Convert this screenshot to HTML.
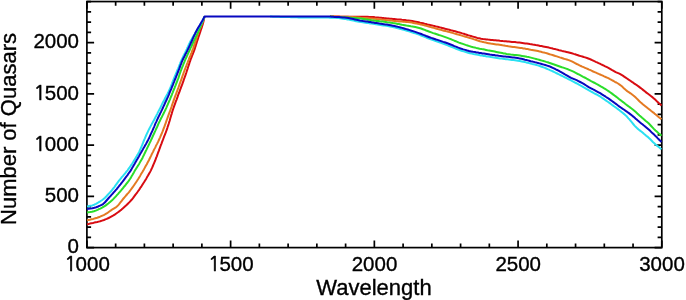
<!DOCTYPE html>
<html><head><meta charset="utf-8"><style>
html,body{margin:0;padding:0;background:#fff;}
svg{display:block;}
text{font-family:"Liberation Sans",Arial,Helvetica,sans-serif;fill:#000;stroke:#000;stroke-width:0.35px;}
.o{font-family:NanumGothic,"Liberation Sans",sans-serif;stroke-width:0.6px;letter-spacing:-1.05px;}
</style></head><body>
<svg width="686" height="300" viewBox="0 0 686 300">
<g fill="none" stroke="#000" stroke-width="1.7">
<path d="M86.90,247.6 v-7.2 M86.90,1.55 v7.2 M115.65,247.6 v-4.2 M115.65,1.55 v4.2 M144.39,247.6 v-4.2 M144.39,1.55 v4.2 M173.13,247.6 v-4.2 M173.13,1.55 v4.2 M201.88,247.6 v-4.2 M201.88,1.55 v4.2 M230.62,247.6 v-7.2 M230.62,1.55 v7.2 M259.37,247.6 v-4.2 M259.37,1.55 v4.2 M288.12,247.6 v-4.2 M288.12,1.55 v4.2 M316.86,247.6 v-4.2 M316.86,1.55 v4.2 M345.61,247.6 v-4.2 M345.61,1.55 v4.2 M374.35,247.6 v-7.2 M374.35,1.55 v7.2 M403.10,247.6 v-4.2 M403.10,1.55 v4.2 M431.84,247.6 v-4.2 M431.84,1.55 v4.2 M460.59,247.6 v-4.2 M460.59,1.55 v4.2 M489.33,247.6 v-4.2 M489.33,1.55 v4.2 M518.08,247.6 v-7.2 M518.08,1.55 v7.2 M546.82,247.6 v-4.2 M546.82,1.55 v4.2 M575.56,247.6 v-4.2 M575.56,1.55 v4.2 M604.31,247.6 v-4.2 M604.31,1.55 v4.2 M633.05,247.6 v-4.2 M633.05,1.55 v4.2 M661.80,247.6 v-7.2 M661.80,1.55 v7.2 M86.9,247.60 h7.2 M661.8,247.60 h-7.2 M86.9,237.35 h4.2 M661.8,237.35 h-4.2 M86.9,227.10 h4.2 M661.8,227.10 h-4.2 M86.9,216.84 h4.2 M661.8,216.84 h-4.2 M86.9,206.59 h4.2 M661.8,206.59 h-4.2 M86.9,196.34 h7.2 M661.8,196.34 h-7.2 M86.9,186.09 h4.2 M661.8,186.09 h-4.2 M86.9,175.84 h4.2 M661.8,175.84 h-4.2 M86.9,165.58 h4.2 M661.8,165.58 h-4.2 M86.9,155.33 h4.2 M661.8,155.33 h-4.2 M86.9,145.08 h7.2 M661.8,145.08 h-7.2 M86.9,134.83 h4.2 M661.8,134.83 h-4.2 M86.9,124.58 h4.2 M661.8,124.58 h-4.2 M86.9,114.32 h4.2 M661.8,114.32 h-4.2 M86.9,104.07 h4.2 M661.8,104.07 h-4.2 M86.9,93.82 h7.2 M661.8,93.82 h-7.2 M86.9,83.57 h4.2 M661.8,83.57 h-4.2 M86.9,73.31 h4.2 M661.8,73.31 h-4.2 M86.9,63.06 h4.2 M661.8,63.06 h-4.2 M86.9,52.81 h4.2 M661.8,52.81 h-4.2 M86.9,42.56 h7.2 M661.8,42.56 h-7.2 M86.9,32.31 h4.2 M661.8,32.31 h-4.2 M86.9,22.05 h4.2 M661.8,22.05 h-4.2 M86.9,11.80 h4.2 M661.8,11.80 h-4.2 M86.9,1.55 h4.2 M661.8,1.55 h-4.2"/>
<rect x="86.9" y="1.55" width="574.9" height="246.04999999999998"/>
</g>
<g fill="none" stroke-width="2.0" stroke-linejoin="round" stroke-linecap="butt">
<path d="M87.0,224.3 L88.5,224.0 L89.9,223.6 L91.4,223.3 L92.9,223.0 L94.3,222.6 L95.8,222.3 L97.3,222.0 L98.7,221.6 L100.2,221.2 L102.1,220.6 L104.0,220.0 L105.4,219.4 L106.7,218.9 L108.6,218.0 L110.3,217.1 L112.1,216.1 L113.4,215.4 L114.7,214.6 L116.3,213.5 L118.0,212.3 L119.2,211.4 L120.3,210.5 L121.5,209.6 L122.7,208.6 L123.8,207.6 L124.9,206.6 L126.0,205.6 L127.1,204.5 L128.1,203.5 L129.2,202.4 L130.2,201.3 L131.6,199.8 L132.8,198.3 L133.7,197.1 L134.6,195.9 L135.5,194.7 L136.4,193.5 L137.3,192.3 L138.2,191.0 L139.1,189.8 L139.9,188.6 L140.7,187.3 L141.6,186.1 L142.4,184.8 L143.2,183.5 L144.0,182.3 L144.8,181.0 L145.6,179.7 L146.4,178.4 L147.1,177.1 L147.9,175.8 L148.6,174.5 L149.3,173.2 L150.1,171.9 L150.8,170.6 L151.6,168.8 L152.3,167.4 L152.9,166.0 L153.4,164.7 L154.0,163.3 L154.6,161.9 L155.2,160.5 L155.7,159.1 L156.2,157.7 L156.8,156.3 L157.3,154.9 L157.8,153.5 L158.3,152.1 L158.9,150.6 L159.4,149.2 L159.9,147.8 L160.4,146.4 L160.9,145.0 L161.5,143.6 L162.0,142.2 L162.5,140.8 L163.1,139.4 L163.6,138.0 L164.1,136.6 L164.7,135.2 L165.2,133.8 L165.8,132.4 L166.3,131.0 L166.8,129.6 L167.3,128.1 L167.7,126.7 L168.2,125.3 L168.7,123.8 L169.1,122.4 L169.6,121.0 L170.0,119.5 L170.4,118.1 L170.8,116.7 L171.2,115.2 L171.7,113.8 L172.1,112.3 L172.5,110.9 L173.0,109.5 L173.5,108.0 L174.0,106.6 L174.5,105.2 L175.0,103.8 L175.5,102.4 L176.0,101.0 L176.6,99.6 L177.1,98.2 L177.6,96.8 L178.1,95.3 L178.6,93.9 L179.2,92.5 L179.7,91.1 L180.2,89.7 L180.7,88.3 L181.2,86.9 L181.8,85.5 L182.3,84.1 L182.8,82.7 L183.3,81.3 L183.8,79.8 L184.3,78.4 L184.8,77.0 L185.3,75.6 L185.8,74.2 L186.3,72.7 L186.7,71.3 L187.2,69.9 L187.7,68.5 L188.1,67.0 L188.6,65.6 L189.1,64.2 L189.5,62.7 L190.0,61.3 L190.5,59.9 L191.0,58.5 L191.6,57.1 L192.1,55.7 L192.7,54.3 L193.2,52.9 L193.8,51.5 L194.3,50.1 L194.8,48.7 L195.2,47.2 L195.7,45.8 L196.1,44.4 L196.6,42.9 L197.0,41.5 L197.5,40.1 L198.0,38.7 L198.4,37.2 L198.9,35.8 L199.4,34.4 L199.9,33.0 L200.4,31.5 L200.8,30.1 L201.3,28.7 L201.8,27.3 L202.2,25.8 L202.7,24.4 L203.1,23.0 L203.6,21.0 L203.9,19.5 L204.2,18.1 L204.5,16.6 M330.0,16.6 L331.5,16.6 L333.0,16.6 L334.5,16.6 L336.0,16.6 L337.5,16.6 L339.0,16.6 L340.5,16.7 L342.0,16.7 L343.5,16.7 L345.0,16.7 L346.5,16.7 L348.0,16.7 L349.5,16.7 L351.0,16.7 L352.5,16.7 L354.0,16.7 L355.5,16.7 L357.0,16.7 L358.5,16.7 L360.0,16.8 L361.5,16.8 L363.0,16.8 L364.5,16.8 L366.0,16.8 L367.5,16.8 L369.5,16.9 L371.5,17.0 L373.5,17.1 L375.0,17.3 L376.5,17.4 L378.0,17.5 L379.5,17.7 L381.0,17.8 L382.5,17.9 L384.0,18.1 L385.5,18.2 L387.0,18.4 L388.4,18.5 L389.9,18.7 L391.4,18.8 L392.9,19.0 L394.4,19.1 L395.9,19.2 L397.4,19.4 L398.9,19.5 L400.4,19.6 L401.9,19.8 L403.4,19.9 L404.9,20.0 L406.4,20.2 L408.4,20.4 L410.3,20.7 L412.3,21.0 L414.3,21.4 L415.7,21.7 L417.2,22.0 L418.7,22.3 L420.1,22.7 L421.6,23.0 L423.1,23.3 L424.5,23.7 L426.0,24.0 L427.4,24.4 L428.9,24.7 L430.4,25.1 L431.8,25.4 L433.3,25.8 L434.7,26.1 L436.2,26.5 L437.7,26.8 L439.1,27.2 L440.6,27.6 L442.0,27.9 L443.5,28.3 L444.9,28.7 L446.4,29.1 L447.8,29.4 L449.3,29.8 L450.7,30.2 L452.2,30.6 L453.7,30.9 L455.1,31.3 L456.6,31.7 L458.0,32.1 L459.4,32.5 L460.9,32.9 L462.3,33.4 L463.8,33.8 L465.2,34.3 L466.6,34.7 L468.0,35.2 L469.5,35.6 L470.9,36.0 L472.4,36.5 L473.8,36.9 L475.2,37.3 L477.2,37.9 L479.1,38.3 L481.1,38.7 L483.0,39.0 L485.0,39.2 L486.5,39.4 L488.0,39.6 L489.5,39.7 L491.0,39.9 L492.5,40.0 L494.0,40.2 L495.5,40.3 L497.0,40.5 L498.4,40.6 L499.9,40.8 L501.4,40.9 L502.9,41.1 L504.4,41.2 L505.9,41.3 L507.4,41.5 L508.9,41.6 L510.4,41.7 L511.9,41.9 L513.4,42.0 L514.9,42.1 L516.4,42.3 L517.9,42.4 L519.4,42.6 L520.9,42.8 L522.3,43.0 L523.8,43.2 L525.3,43.4 L526.8,43.6 L528.3,43.8 L529.8,44.1 L531.2,44.3 L532.7,44.6 L534.2,44.8 L535.7,45.1 L537.2,45.3 L538.6,45.6 L540.1,45.9 L541.6,46.1 L543.1,46.4 L544.5,46.7 L546.0,47.0 L547.5,47.3 L548.9,47.6 L550.4,48.0 L551.9,48.3 L553.3,48.7 L554.8,49.0 L556.2,49.4 L557.7,49.8 L559.1,50.2 L560.6,50.5 L562.1,50.9 L563.5,51.2 L565.0,51.6 L566.4,51.9 L567.9,52.2 L569.8,52.7 L571.8,53.3 L573.7,53.9 L575.1,54.3 L576.5,54.8 L578.0,55.2 L579.4,55.7 L580.8,56.1 L582.3,56.5 L583.7,57.0 L585.1,57.4 L587.0,58.0 L588.9,58.7 L590.8,59.5 L592.6,60.3 L594.4,61.2 L595.7,61.8 L597.1,62.4 L598.5,63.1 L599.8,63.7 L601.2,64.4 L602.5,65.0 L603.9,65.6 L605.2,66.3 L607.0,67.2 L608.8,68.1 L610.5,69.1 L612.2,70.1 L614.0,71.1 L615.7,72.1 L617.5,72.9 L619.4,73.7 L621.1,74.7 L622.8,75.7 L624.5,76.8 L625.7,77.6 L627.0,78.5 L628.2,79.3 L629.4,80.2 L630.7,81.0 L631.9,81.9 L633.2,82.7 L634.4,83.6 L635.6,84.4 L636.9,85.2 L638.5,86.4 L640.1,87.6 L641.7,88.8 L643.3,90.1 L644.8,91.3 L646.4,92.6 L648.0,93.8 L649.6,95.0 L651.2,96.2 L652.7,97.4 L654.2,98.7 L655.7,100.1 L657.1,101.5 L658.2,102.5 L659.3,103.6 L660.4,104.6 L661.5,105.6" stroke="#d80c12"/>
<path d="M87.0,220.3 L88.5,220.0 L89.9,219.7 L91.4,219.3 L93.3,218.9 L95.3,218.3 L97.2,217.7 L98.6,217.2 L100.0,216.7 L101.8,215.9 L103.7,215.1 L105.4,214.2 L107.1,213.2 L108.7,212.0 L110.3,210.8 L112.0,209.7 L113.7,208.7 L115.4,207.7 L116.9,206.5 L118.3,205.1 L119.5,203.6 L120.7,202.0 L121.7,200.8 L122.6,199.6 L123.5,198.5 L124.5,197.3 L125.5,196.2 L126.5,195.0 L127.4,193.9 L128.4,192.8 L129.4,191.6 L130.6,190.0 L131.8,188.4 L132.7,187.2 L133.5,186.0 L134.4,184.7 L135.2,183.5 L136.1,182.2 L136.9,181.0 L137.7,179.7 L138.5,178.5 L139.3,177.2 L140.1,175.9 L140.8,174.6 L141.6,173.3 L142.4,172.0 L143.1,170.7 L143.9,169.4 L144.6,168.1 L145.3,166.8 L146.0,165.5 L146.8,164.2 L147.5,162.8 L148.2,161.5 L148.9,160.2 L149.6,158.8 L150.2,157.5 L150.9,156.1 L151.5,154.8 L152.2,153.4 L152.9,152.1 L153.5,150.8 L154.2,149.4 L154.9,148.1 L155.6,146.7 L156.2,145.4 L156.9,144.1 L157.6,142.7 L158.3,141.4 L158.9,140.0 L159.5,138.6 L160.1,137.3 L160.7,135.9 L161.3,134.5 L161.9,133.1 L162.5,131.7 L163.0,130.3 L163.5,128.9 L164.1,127.5 L164.6,126.1 L165.1,124.7 L165.6,123.3 L166.1,121.9 L166.6,120.4 L167.1,119.0 L167.6,117.6 L168.1,116.2 L168.6,114.8 L169.1,113.4 L169.7,112.0 L170.2,110.6 L170.7,109.2 L171.2,107.7 L171.7,106.3 L172.1,104.9 L172.6,103.5 L173.1,102.1 L173.6,100.6 L174.1,99.2 L174.6,97.8 L175.1,96.4 L175.7,95.0 L176.2,93.6 L176.7,92.2 L177.2,90.8 L177.7,89.4 L178.3,87.9 L178.8,86.5 L179.3,85.1 L179.8,83.7 L180.3,82.3 L180.8,80.9 L181.4,79.5 L181.8,78.1 L182.3,76.7 L182.8,75.2 L183.3,73.8 L183.8,72.4 L184.3,71.0 L184.8,69.6 L185.4,68.2 L185.9,66.8 L186.5,65.4 L187.0,64.0 L187.6,62.6 L188.1,61.2 L188.7,59.8 L189.2,58.4 L189.8,57.0 L190.4,55.6 L190.9,54.2 L191.5,52.8 L192.0,51.4 L192.5,50.0 L193.1,48.6 L193.5,47.2 L194.0,45.8 L194.5,44.3 L195.0,42.9 L195.5,41.5 L195.9,40.1 L196.4,38.6 L196.9,37.2 L197.3,35.8 L197.8,34.3 L198.2,32.9 L198.9,31.0 L199.6,29.2 L200.4,27.3 L201.0,25.9 L201.6,24.6 L202.4,22.7 L203.1,20.9 L203.7,19.0 L204.2,17.6 L204.5,16.6 M330.0,16.6 L331.5,16.6 L333.0,16.6 L334.5,16.6 L336.0,16.7 L337.5,16.7 L339.0,16.7 L340.5,16.7 L342.0,16.7 L343.5,16.7 L345.0,16.8 L346.5,16.8 L348.0,16.8 L349.5,16.9 L351.0,17.0 L352.5,17.1 L354.0,17.2 L355.5,17.3 L357.0,17.5 L358.5,17.6 L360.0,17.7 L361.5,17.9 L363.0,17.9 L364.5,18.0 L366.0,18.1 L367.5,18.2 L369.0,18.3 L370.5,18.4 L372.0,18.5 L373.5,18.7 L375.0,18.8 L376.5,19.0 L377.9,19.2 L379.4,19.3 L380.9,19.5 L382.4,19.7 L383.9,19.8 L385.4,20.0 L386.9,20.2 L388.4,20.3 L389.9,20.5 L391.4,20.6 L392.9,20.8 L394.4,20.9 L395.9,21.1 L397.4,21.2 L398.9,21.4 L400.4,21.5 L401.9,21.6 L403.3,21.7 L404.8,21.8 L406.3,22.0 L407.8,22.1 L409.8,22.3 L411.8,22.6 L413.3,22.9 L414.8,23.2 L416.2,23.4 L417.7,23.8 L419.2,24.1 L420.6,24.4 L422.1,24.8 L423.5,25.1 L425.0,25.5 L426.4,25.9 L427.9,26.3 L429.4,26.7 L430.8,27.1 L432.2,27.5 L433.7,27.9 L435.1,28.3 L436.6,28.7 L438.0,29.1 L439.5,29.5 L440.9,29.9 L442.4,30.3 L443.8,30.7 L445.3,31.0 L446.7,31.4 L448.2,31.8 L449.6,32.1 L451.1,32.5 L452.5,32.9 L454.0,33.4 L455.4,33.8 L456.9,34.2 L458.3,34.6 L459.8,35.0 L461.2,35.4 L462.6,35.9 L464.1,36.3 L465.5,36.7 L467.0,37.1 L468.4,37.6 L469.8,38.0 L471.3,38.4 L472.7,38.9 L474.1,39.4 L475.6,39.8 L477.0,40.3 L478.4,40.7 L479.9,41.2 L481.3,41.6 L482.8,41.9 L484.2,42.3 L485.7,42.6 L487.2,42.9 L488.6,43.2 L490.6,43.6 L492.1,43.8 L493.6,44.0 L495.0,44.2 L496.5,44.4 L498.0,44.6 L499.5,44.8 L501.0,45.0 L502.5,45.3 L504.0,45.5 L505.4,45.8 L506.9,46.0 L508.4,46.3 L509.9,46.5 L511.4,46.7 L512.9,46.9 L514.3,47.1 L515.8,47.3 L517.3,47.5 L518.8,47.7 L520.3,47.9 L521.8,48.1 L523.3,48.4 L524.7,48.6 L526.2,48.9 L527.7,49.1 L529.2,49.4 L530.7,49.7 L532.1,49.9 L533.6,50.2 L535.1,50.5 L536.6,50.8 L538.0,51.1 L539.5,51.4 L541.0,51.8 L542.4,52.2 L543.9,52.5 L545.3,52.9 L546.8,53.3 L548.2,53.7 L549.6,54.2 L551.1,54.6 L552.5,55.0 L553.9,55.5 L555.4,56.0 L556.8,56.4 L558.2,56.9 L559.7,57.4 L561.1,57.8 L562.5,58.2 L564.0,58.7 L565.4,59.1 L566.8,59.5 L568.7,60.1 L570.6,60.9 L572.4,61.7 L574.2,62.6 L575.5,63.3 L576.8,64.0 L578.2,64.7 L579.5,65.4 L580.9,66.0 L582.2,66.6 L583.6,67.2 L585.0,67.8 L586.4,68.4 L587.8,69.0 L589.1,69.6 L590.5,70.2 L591.9,70.8 L593.2,71.5 L594.6,72.1 L596.0,72.7 L597.4,73.3 L598.7,73.9 L600.1,74.5 L601.5,75.1 L602.8,75.7 L604.2,76.4 L605.6,77.0 L607.0,77.6 L608.3,78.2 L609.6,78.9 L611.0,79.6 L612.3,80.3 L613.6,81.0 L614.9,81.8 L616.3,82.5 L618.0,83.5 L619.6,84.6 L621.2,85.8 L622.7,87.1 L624.1,88.5 L625.6,89.8 L627.2,91.1 L628.8,92.2 L630.5,93.3 L632.1,94.5 L633.7,95.7 L635.2,97.0 L636.6,98.4 L638.0,99.8 L639.4,101.2 L640.5,102.2 L641.7,103.2 L642.8,104.2 L644.0,105.2 L645.1,106.1 L646.3,107.0 L647.5,108.0 L648.7,108.9 L649.8,109.8 L651.0,110.8 L652.2,111.7 L653.4,112.6 L654.5,113.6 L655.7,114.5 L656.9,115.5 L658.0,116.4 L659.2,117.4 L660.3,118.3 L661.5,119.3" stroke="#e47a22"/>
<path d="M87.0,212.5 L88.5,212.3 L90.0,212.1 L91.9,211.7 L93.9,211.2 L95.7,210.6 L97.6,209.8 L98.9,209.2 L100.3,208.6 L102.1,207.7 L103.8,206.7 L105.5,205.6 L107.1,204.4 L108.3,203.5 L109.4,202.5 L110.6,201.6 L112.1,200.3 L113.5,198.9 L114.9,197.4 L115.9,196.3 L116.9,195.2 L117.9,194.1 L118.9,192.9 L119.9,191.8 L120.9,190.7 L121.8,189.5 L122.8,188.4 L123.7,187.2 L124.7,186.0 L125.6,184.9 L126.5,183.7 L127.5,182.5 L128.7,180.9 L129.8,179.3 L130.9,177.6 L131.6,176.3 L132.4,175.0 L133.1,173.7 L133.9,172.4 L134.6,171.1 L135.4,169.8 L136.2,168.5 L137.0,167.2 L137.8,165.9 L138.6,164.7 L139.4,163.4 L140.1,162.1 L140.9,160.8 L141.9,159.1 L142.6,157.7 L143.2,156.4 L143.9,155.0 L144.5,153.7 L145.2,152.3 L145.8,151.0 L146.5,149.6 L147.1,148.3 L147.8,146.9 L148.4,145.6 L149.1,144.2 L149.7,142.8 L150.4,141.5 L151.0,140.1 L151.7,138.8 L152.3,137.4 L152.9,136.0 L153.5,134.7 L154.2,133.3 L154.8,131.9 L155.4,130.6 L156.0,129.2 L156.7,127.8 L157.3,126.5 L157.9,125.1 L158.5,123.7 L159.1,122.4 L159.8,121.0 L160.4,119.7 L161.1,118.3 L161.8,117.0 L162.5,115.6 L163.2,114.3 L163.8,113.0 L164.5,111.6 L165.2,110.3 L165.8,108.9 L166.4,107.6 L167.0,106.2 L167.6,104.8 L168.2,103.4 L168.8,102.0 L169.4,100.6 L170.0,99.3 L170.5,97.9 L171.1,96.5 L171.7,95.1 L172.2,93.7 L172.8,92.3 L173.3,90.9 L173.9,89.5 L174.5,88.1 L175.0,86.7 L175.6,85.3 L176.1,83.9 L176.7,82.5 L177.2,81.1 L177.7,79.7 L178.3,78.3 L178.8,76.9 L179.2,75.5 L179.7,74.0 L180.2,72.6 L180.7,71.2 L181.2,69.8 L181.8,68.4 L182.3,67.0 L182.9,65.6 L183.4,64.2 L184.0,62.8 L184.6,61.4 L185.1,60.0 L185.7,58.7 L186.4,57.3 L187.0,55.9 L187.6,54.6 L188.2,53.2 L188.9,51.8 L189.5,50.5 L190.1,49.1 L190.7,47.7 L191.4,46.4 L192.0,45.0 L192.6,43.6 L193.3,42.3 L193.9,40.9 L194.5,39.6 L195.2,38.2 L195.8,36.8 L196.5,35.5 L197.1,34.1 L197.8,32.8 L198.4,31.4 L199.0,30.0 L199.6,28.7 L200.2,27.3 L200.8,25.9 L201.4,24.5 L202.0,23.1 L202.5,21.8 L203.1,20.4 L203.6,18.9 L204.2,17.5 L204.5,16.6 M330.0,16.6 L331.5,16.7 L333.0,16.8 L334.5,16.9 L336.0,16.9 L337.5,17.0 L339.0,17.1 L340.5,17.2 L342.0,17.3 L343.5,17.4 L345.0,17.4 L346.5,17.5 L348.0,17.6 L349.5,17.7 L351.0,17.8 L352.5,17.9 L354.0,18.0 L355.5,18.0 L357.5,18.2 L359.4,18.4 L361.4,18.6 L363.4,18.9 L365.4,19.3 L366.9,19.5 L368.3,19.8 L370.3,20.1 L372.3,20.4 L373.8,20.5 L375.3,20.7 L376.8,20.9 L378.2,21.1 L379.7,21.3 L381.2,21.4 L382.7,21.6 L384.2,21.8 L385.7,22.0 L387.2,22.2 L389.2,22.4 L391.1,22.7 L393.1,23.1 L394.6,23.3 L396.1,23.6 L397.5,23.9 L399.0,24.1 L400.5,24.4 L402.0,24.7 L403.5,24.9 L404.9,25.2 L406.4,25.5 L407.9,25.7 L409.4,26.0 L410.8,26.3 L412.3,26.5 L413.8,26.8 L415.3,27.1 L417.2,27.5 L419.2,28.0 L421.1,28.5 L422.9,29.2 L424.8,29.9 L426.2,30.5 L427.6,31.0 L429.5,31.7 L431.3,32.4 L433.2,33.1 L434.7,33.5 L436.1,34.0 L437.5,34.5 L438.9,35.0 L440.3,35.4 L441.8,35.9 L443.2,36.4 L444.6,36.9 L446.0,37.4 L447.4,37.9 L449.3,38.6 L451.2,39.3 L453.0,40.1 L454.4,40.7 L455.8,41.2 L457.2,41.8 L459.0,42.6 L460.9,43.3 L462.8,43.9 L464.2,44.4 L465.6,44.9 L467.5,45.5 L469.4,46.1 L471.4,46.7 L473.3,47.2 L474.7,47.5 L476.2,47.9 L477.7,48.2 L479.6,48.7 L481.6,49.1 L483.1,49.3 L484.5,49.6 L486.0,49.9 L487.5,50.2 L489.0,50.4 L490.4,50.7 L491.9,51.0 L493.4,51.3 L494.8,51.6 L496.3,51.9 L497.8,52.2 L499.2,52.5 L500.7,52.8 L502.2,53.1 L503.7,53.4 L505.1,53.6 L506.6,53.9 L508.6,54.2 L510.6,54.5 L512.6,54.7 L514.5,55.0 L516.0,55.1 L518.0,55.3 L520.0,55.6 L522.0,55.9 L524.0,56.2 L525.4,56.5 L526.9,56.8 L528.9,57.1 L530.8,57.6 L532.8,58.1 L534.7,58.6 L536.1,59.0 L537.6,59.4 L539.0,59.8 L540.5,60.2 L541.9,60.6 L543.4,61.0 L544.8,61.4 L546.2,61.9 L547.7,62.3 L549.1,62.8 L550.5,63.2 L551.9,63.7 L553.4,64.2 L554.8,64.7 L556.2,65.2 L557.6,65.7 L559.0,66.2 L560.4,66.7 L561.9,67.2 L563.3,67.6 L564.7,68.1 L566.1,68.6 L568.0,69.3 L569.8,70.1 L571.7,70.9 L573.5,71.7 L575.3,72.6 L576.6,73.3 L577.9,74.0 L579.3,74.7 L580.6,75.4 L581.9,76.1 L583.2,76.8 L584.6,77.5 L585.9,78.2 L587.2,79.0 L588.5,79.7 L589.8,80.4 L591.1,81.1 L592.5,81.8 L593.8,82.5 L595.1,83.2 L596.4,83.9 L597.8,84.6 L599.5,85.6 L601.2,86.6 L603.0,87.6 L604.2,88.4 L605.5,89.2 L606.8,90.0 L608.5,91.1 L610.1,92.2 L611.7,93.4 L613.3,94.6 L614.5,95.5 L615.7,96.4 L616.9,97.3 L618.1,98.2 L619.3,99.2 L620.5,100.1 L621.7,101.0 L622.8,101.9 L624.0,102.8 L625.2,103.8 L626.4,104.7 L627.6,105.6 L628.8,106.5 L630.0,107.4 L631.2,108.3 L632.8,109.5 L634.3,110.8 L635.8,112.1 L637.3,113.5 L638.4,114.5 L639.5,115.5 L641.0,116.8 L642.1,117.8 L643.3,118.8 L644.4,119.7 L645.5,120.7 L647.1,122.0 L648.6,123.3 L650.0,124.7 L651.4,126.2 L652.7,127.6 L654.1,129.1 L655.5,130.5 L657.0,131.8 L658.5,133.2 L659.6,134.1 L660.7,135.1 L661.5,135.8" stroke="#2ade2a"/>
<path d="M87.0,206.5 L88.5,206.2 L90.4,205.8 L92.4,205.4 L94.2,204.7 L96.0,203.8 L97.7,202.8 L99.0,202.0 L100.3,201.3 L101.9,200.2 L103.5,199.0 L105.0,197.7 L106.4,196.3 L107.8,194.8 L108.8,193.7 L109.8,192.6 L110.8,191.5 L111.8,190.3 L112.7,189.2 L113.7,188.0 L114.6,186.8 L115.4,185.6 L116.3,184.3 L117.2,183.1 L118.1,181.9 L119.0,180.7 L119.9,179.6 L120.9,178.4 L121.8,177.2 L122.8,176.1 L123.8,174.9 L124.7,173.8 L125.7,172.6 L126.6,171.4 L127.6,170.3 L128.7,168.6 L129.6,167.4 L130.4,166.2 L131.3,164.9 L132.1,163.7 L132.9,162.4 L133.7,161.1 L134.5,159.9 L135.3,158.6 L136.0,157.3 L136.8,156.0 L137.5,154.7 L138.3,153.4 L139.0,152.1 L139.9,150.3 L140.7,148.5 L141.5,146.6 L142.1,145.2 L142.6,143.8 L143.2,142.4 L143.7,141.0 L144.3,139.6 L144.9,138.3 L145.5,136.9 L146.1,135.5 L146.7,134.1 L147.4,132.8 L148.0,131.4 L148.6,130.1 L149.3,128.7 L150.0,127.4 L150.7,126.1 L151.4,124.8 L152.1,123.4 L152.9,122.1 L153.6,120.8 L154.3,119.5 L155.0,118.1 L155.7,116.8 L156.4,115.5 L157.1,114.1 L157.7,112.8 L158.4,111.5 L159.1,110.1 L159.8,108.8 L160.5,107.4 L161.1,106.1 L161.8,104.7 L162.4,103.4 L163.1,102.0 L163.8,100.7 L164.5,99.4 L165.2,98.0 L165.9,96.7 L166.6,95.4 L167.3,94.1 L168.0,92.7 L168.7,91.4 L169.5,89.6 L170.3,87.8 L170.9,86.4 L171.4,85.0 L172.0,83.6 L172.5,82.2 L173.0,80.8 L173.6,79.4 L174.2,78.0 L174.7,76.6 L175.3,75.2 L175.9,73.8 L176.5,72.4 L177.1,71.0 L177.6,69.6 L178.2,68.3 L178.8,66.9 L179.3,65.5 L179.9,64.1 L180.4,62.7 L181.0,61.3 L181.6,59.9 L182.2,58.6 L182.9,57.2 L183.5,55.8 L184.2,54.5 L184.9,53.1 L185.5,51.8 L186.2,50.4 L186.8,49.1 L187.4,47.7 L188.1,46.4 L188.7,45.0 L189.3,43.6 L190.0,42.3 L190.6,40.9 L191.6,39.2 L192.3,37.9 L193.1,36.6 L193.9,35.3 L194.7,34.0 L195.4,32.7 L196.2,31.4 L197.0,30.2 L197.8,28.9 L198.6,27.6 L199.4,26.3 L200.1,25.0 L200.9,23.7 L201.6,22.4 L202.6,20.7 L203.2,19.3 L203.9,18.0 L204.5,16.6 M270.0,16.6 L271.5,16.6 L273.0,16.7 L274.5,16.7 L276.0,16.8 L277.5,16.8 L279.0,16.8 L280.5,16.9 L282.0,16.9 L283.5,17.0 L285.0,17.0 L286.5,17.0 L288.0,17.1 L289.5,17.1 L291.0,17.2 L292.5,17.2 L294.0,17.2 L295.5,17.3 L297.0,17.3 L298.5,17.4 L300.0,17.4 L301.5,17.4 L303.0,17.4 L304.5,17.4 L306.0,17.5 L307.5,17.5 L309.0,17.5 L310.5,17.5 L312.0,17.5 L313.5,17.5 L315.0,17.5 L316.5,17.5 L318.0,17.6 L319.5,17.6 L321.0,17.6 L322.5,17.6 L324.0,17.6 L325.5,17.6 L327.0,17.6 L328.5,17.6 L330.0,17.7 L331.5,17.7 L333.0,17.7 L335.0,17.8 L337.0,18.0 L338.5,18.1 L340.0,18.3 L341.5,18.5 L343.0,18.7 L344.5,18.9 L346.0,19.1 L347.4,19.4 L348.9,19.6 L350.4,19.9 L351.9,20.2 L353.3,20.5 L354.8,20.9 L356.3,21.2 L357.7,21.5 L359.2,21.8 L361.2,22.1 L362.7,22.3 L364.1,22.5 L365.6,22.7 L367.1,22.9 L368.6,23.1 L370.1,23.4 L371.6,23.6 L373.0,23.8 L374.5,24.1 L376.0,24.3 L377.5,24.6 L379.0,24.8 L380.5,25.0 L381.9,25.2 L383.4,25.4 L384.9,25.6 L386.4,25.8 L387.9,26.1 L389.9,26.4 L391.8,26.8 L393.8,27.2 L395.2,27.6 L396.7,28.0 L398.1,28.3 L399.6,28.7 L401.0,29.1 L402.5,29.5 L403.9,29.9 L405.4,30.3 L406.8,30.7 L408.3,31.1 L409.7,31.6 L411.1,32.0 L412.6,32.5 L414.0,33.0 L415.4,33.4 L416.8,33.9 L418.2,34.4 L419.7,34.9 L421.1,35.5 L422.5,36.0 L423.9,36.5 L425.2,37.1 L426.6,37.7 L428.0,38.2 L429.4,38.7 L430.9,39.3 L432.3,39.8 L433.7,40.2 L435.1,40.7 L436.5,41.2 L437.9,41.7 L439.4,42.2 L440.8,42.7 L442.2,43.3 L443.6,43.8 L445.0,44.3 L446.4,44.9 L447.8,45.4 L449.2,46.0 L450.6,46.5 L452.0,47.1 L453.4,47.6 L454.7,48.2 L456.1,48.8 L457.5,49.3 L458.9,49.8 L460.8,50.5 L462.3,51.0 L463.7,51.4 L465.1,51.8 L466.6,52.3 L468.0,52.7 L469.9,53.2 L471.9,53.6 L473.4,54.0 L474.8,54.3 L476.3,54.6 L477.8,54.8 L479.2,55.1 L480.7,55.4 L482.2,55.6 L483.7,55.9 L485.2,56.1 L486.6,56.4 L488.1,56.6 L489.6,56.8 L491.1,57.1 L492.6,57.3 L494.1,57.5 L495.5,57.8 L497.0,58.0 L498.5,58.2 L500.0,58.4 L501.5,58.6 L503.0,58.8 L504.5,59.0 L506.0,59.2 L507.4,59.3 L508.9,59.5 L510.4,59.7 L511.9,59.9 L513.4,60.0 L514.9,60.2 L516.4,60.4 L517.9,60.7 L519.8,61.0 L521.8,61.4 L523.3,61.7 L524.7,62.0 L526.2,62.4 L527.6,62.7 L529.1,63.1 L530.6,63.5 L532.0,63.9 L533.5,64.2 L534.9,64.6 L536.4,65.0 L537.8,65.4 L539.7,66.0 L541.6,66.7 L543.5,67.4 L544.9,67.9 L546.3,68.5 L547.6,69.1 L549.0,69.7 L550.4,70.3 L551.8,70.9 L553.1,71.5 L554.5,72.2 L555.8,72.8 L557.2,73.5 L558.5,74.2 L559.9,74.8 L561.2,75.5 L562.6,76.2 L563.9,76.8 L565.3,77.5 L566.6,78.1 L567.9,78.8 L569.3,79.5 L570.6,80.2 L571.9,80.9 L573.3,81.6 L574.6,82.3 L575.9,83.0 L577.2,83.7 L578.5,84.4 L579.9,85.2 L581.2,85.9 L582.5,86.6 L583.8,87.4 L585.1,88.1 L586.4,88.9 L587.7,89.6 L589.0,90.4 L590.3,91.1 L591.6,91.8 L592.9,92.5 L594.3,93.3 L595.6,94.0 L596.9,94.7 L598.6,95.6 L600.4,96.7 L602.0,97.8 L603.3,98.6 L604.5,99.5 L605.7,100.3 L607.0,101.2 L608.2,102.0 L609.4,102.9 L610.6,103.8 L611.8,104.7 L613.1,105.6 L614.3,106.5 L615.5,107.3 L616.7,108.2 L617.9,109.1 L619.1,110.0 L620.3,111.0 L621.5,111.9 L622.6,112.8 L624.2,114.1 L625.7,115.4 L627.1,116.8 L628.4,118.3 L629.4,119.4 L630.4,120.6 L631.3,121.7 L632.3,122.9 L633.2,124.0 L634.5,125.6 L635.9,127.0 L637.3,128.4 L638.9,129.7 L640.4,130.9 L641.6,131.8 L642.8,132.8 L643.9,133.8 L645.1,134.7 L646.2,135.7 L647.4,136.6 L648.9,138.0 L650.3,139.3 L651.7,140.7 L653.1,142.2 L654.6,143.5 L656.1,144.9 L657.6,146.1 L658.8,147.1 L659.9,148.0 L661.1,149.0 L661.5,149.3" stroke="#2ae0f2"/>
<path d="M87.0,209.0 L88.5,208.8 L90.5,208.6 L92.4,208.3 L94.4,207.8 L96.2,207.2 L98.1,206.5 L99.9,205.7 L101.7,204.8 L103.4,203.8 L104.8,202.5 L106.1,201.0 L107.4,199.5 L108.7,198.0 L109.7,196.9 L110.7,195.8 L111.7,194.7 L112.7,193.6 L113.7,192.4 L114.7,191.3 L115.7,190.2 L116.7,189.1 L117.6,187.9 L118.6,186.7 L119.5,185.5 L120.5,184.4 L121.4,183.2 L122.3,182.0 L123.2,180.8 L124.1,179.6 L125.0,178.4 L125.9,177.2 L126.8,176.0 L127.7,174.8 L128.5,173.5 L129.4,172.3 L130.3,171.1 L131.4,169.4 L132.1,168.1 L132.9,166.8 L133.6,165.5 L134.4,164.2 L135.1,162.9 L135.9,161.6 L136.6,160.3 L137.4,159.0 L138.1,157.7 L138.9,156.4 L139.6,155.1 L140.3,153.8 L141.1,152.5 L141.8,151.2 L142.6,149.9 L143.3,148.6 L144.1,147.3 L144.8,146.0 L145.5,144.7 L146.3,143.4 L147.0,142.0 L147.7,140.7 L148.4,139.4 L149.1,138.0 L149.7,136.7 L150.3,135.3 L150.9,133.9 L151.5,132.6 L152.2,131.2 L152.8,129.8 L153.4,128.4 L154.0,127.1 L154.6,125.7 L155.1,124.3 L155.7,122.9 L156.4,121.6 L157.0,120.2 L157.6,118.8 L158.2,117.5 L158.9,116.1 L159.6,114.8 L160.2,113.4 L160.9,112.1 L161.5,110.7 L162.2,109.4 L162.8,108.0 L163.4,106.6 L164.1,105.3 L164.7,103.9 L165.3,102.5 L165.9,101.2 L166.6,99.8 L167.2,98.4 L167.8,97.1 L168.4,95.7 L169.0,94.3 L169.5,92.9 L170.1,91.5 L170.7,90.1 L171.3,88.8 L171.8,87.4 L172.4,86.0 L173.0,84.6 L173.5,83.2 L174.1,81.8 L174.6,80.4 L175.2,79.0 L175.8,77.6 L176.3,76.2 L176.9,74.8 L177.4,73.4 L178.0,72.0 L178.5,70.6 L179.1,69.2 L179.6,67.8 L180.1,66.4 L180.6,65.0 L181.2,63.6 L181.7,62.2 L182.5,60.4 L183.3,58.5 L184.0,57.2 L184.7,55.9 L185.3,54.5 L186.0,53.2 L186.7,51.9 L187.4,50.5 L188.0,49.2 L188.7,47.8 L189.3,46.4 L189.9,45.1 L190.5,43.7 L191.2,42.3 L191.8,41.0 L192.4,39.6 L193.0,38.2 L193.6,36.8 L194.2,35.5 L194.9,34.1 L195.5,32.7 L196.4,31.0 L197.3,29.2 L198.3,27.5 L199.1,26.2 L199.9,24.9 L200.7,23.6 L201.4,22.3 L202.2,21.0 L202.9,19.7 L203.6,18.4 L204.3,17.0 L204.5,16.6 L330.0,16.6 L331.5,16.7 L333.0,16.8 L334.5,16.9 L336.0,17.0 L337.5,17.0 L339.0,17.1 L340.5,17.2 L342.5,17.4 L344.5,17.6 L346.4,17.8 L348.4,18.1 L350.4,18.5 L351.9,18.8 L353.3,19.1 L354.8,19.4 L356.3,19.7 L357.7,20.0 L359.7,20.4 L361.7,20.7 L363.2,21.0 L364.6,21.2 L366.1,21.4 L367.6,21.6 L369.1,21.9 L370.6,22.1 L372.0,22.4 L373.5,22.6 L375.0,22.9 L376.5,23.1 L378.0,23.3 L379.4,23.6 L380.9,23.8 L382.4,24.0 L383.9,24.2 L385.4,24.4 L386.9,24.6 L388.9,24.9 L390.8,25.3 L392.8,25.7 L394.7,26.1 L396.2,26.4 L397.7,26.8 L399.1,27.1 L400.6,27.5 L402.0,27.9 L403.5,28.3 L404.9,28.7 L406.4,29.1 L407.8,29.5 L409.7,30.1 L411.6,30.7 L413.0,31.1 L414.5,31.6 L415.9,32.1 L417.3,32.6 L418.7,33.1 L420.6,33.8 L422.0,34.3 L423.4,34.9 L424.8,35.4 L426.2,36.0 L427.6,36.5 L429.4,37.2 L431.3,37.9 L433.2,38.5 L434.6,39.0 L436.1,39.5 L437.5,39.9 L438.9,40.4 L440.3,40.9 L441.8,41.4 L443.2,41.9 L444.6,42.3 L446.0,42.8 L447.4,43.3 L449.3,44.0 L451.2,44.7 L453.0,45.5 L454.4,46.1 L455.8,46.6 L457.7,47.4 L459.5,48.1 L461.4,48.8 L463.3,49.4 L465.2,49.9 L467.2,50.5 L469.1,51.0 L471.0,51.4 L473.0,51.8 L475.0,52.1 L476.5,52.4 L477.9,52.6 L479.4,52.9 L480.9,53.1 L482.4,53.4 L483.9,53.6 L485.3,53.8 L486.8,54.0 L488.3,54.2 L489.8,54.5 L491.3,54.7 L492.8,54.9 L494.3,55.1 L495.7,55.4 L497.2,55.6 L498.7,55.8 L500.7,56.0 L502.2,56.2 L503.7,56.4 L505.2,56.5 L506.7,56.7 L508.1,56.8 L509.6,57.0 L511.1,57.2 L512.6,57.4 L514.1,57.6 L515.6,57.8 L517.6,58.1 L519.5,58.4 L521.5,58.8 L523.4,59.3 L524.9,59.7 L526.3,60.0 L527.8,60.4 L529.2,60.8 L530.7,61.2 L532.2,61.5 L533.6,61.9 L535.1,62.3 L536.5,62.6 L538.0,63.0 L539.4,63.4 L540.9,63.8 L542.3,64.2 L543.8,64.6 L545.2,65.0 L547.1,65.6 L549.0,66.2 L550.9,67.0 L552.7,67.8 L554.5,68.7 L555.8,69.4 L557.1,70.0 L558.5,70.7 L560.2,71.7 L562.0,72.7 L563.3,73.4 L564.5,74.2 L565.8,74.9 L567.6,75.9 L569.3,76.9 L571.1,77.8 L572.9,78.6 L574.8,79.4 L576.6,80.2 L578.4,81.1 L580.2,82.0 L581.9,82.9 L583.7,83.9 L584.9,84.7 L586.2,85.5 L587.5,86.3 L589.2,87.3 L591.0,88.3 L592.7,89.2 L594.1,89.9 L595.4,90.6 L596.7,91.3 L598.5,92.3 L600.2,93.2 L601.9,94.3 L603.6,95.4 L604.9,96.2 L606.1,97.0 L607.4,97.8 L609.0,98.9 L610.7,100.1 L612.3,101.2 L613.5,102.1 L614.7,103.0 L615.9,103.9 L617.1,104.8 L618.3,105.7 L619.5,106.6 L620.8,107.5 L622.0,108.3 L623.2,109.2 L624.5,110.0 L625.7,110.9 L626.9,111.7 L628.6,112.9 L630.2,114.1 L631.7,115.3 L633.3,116.6 L634.4,117.6 L635.5,118.6 L636.7,119.5 L637.8,120.5 L639.0,121.5 L640.1,122.4 L641.3,123.4 L642.4,124.3 L643.6,125.3 L644.8,126.2 L646.3,127.5 L647.8,128.8 L649.3,130.1 L650.4,131.1 L651.5,132.2 L652.6,133.2 L654.1,134.6 L655.5,136.0 L656.6,137.0 L657.6,138.1 L658.7,139.2 L659.7,140.2 L660.8,141.3 L661.5,142.0" stroke="#0808c0"/>
</g>
<g font-size="20.5">
<text x="87.0" y="271" text-anchor="middle"><tspan class="o">1</tspan>000</text><text x="230.8" y="271" text-anchor="middle"><tspan class="o">1</tspan>500</text><text x="374.5" y="271" text-anchor="middle">2000</text><text x="518.2" y="271" text-anchor="middle">2500</text><text x="662.0" y="271" text-anchor="middle">3000</text>
<text x="79" y="253.3" text-anchor="end">0</text><text x="79" y="202.1" text-anchor="end">500</text><text x="79" y="150.8" text-anchor="end"><tspan class="o">1</tspan>000</text><text x="79" y="99.5" text-anchor="end"><tspan class="o">1</tspan>500</text><text x="79" y="48.3" text-anchor="end">2000</text>
</g>
<text x="374" y="295" text-anchor="middle" font-size="22">Wavelength</text>
<text transform="translate(16,129) rotate(-90)" text-anchor="middle" font-size="22">Number of Quasars</text>
</svg>
</body></html>
